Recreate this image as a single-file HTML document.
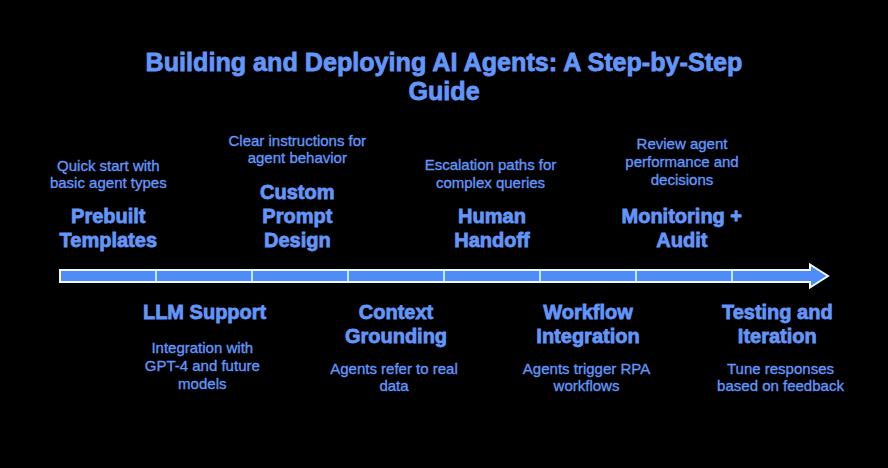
<!DOCTYPE html>
<html><head><meta charset="utf-8">
<style>
html,body{margin:0;padding:0;background:#000;}
body{width:888px;height:468px;position:relative;overflow:hidden;font-family:"Liberation Sans",sans-serif;color:#6396f8;}
.t{position:absolute;width:240px;text-align:center;white-space:nowrap;}
.title{left:0;width:888px;top:47.6px;font-weight:bold;font-size:25.15px;line-height:29.2px;-webkit-text-stroke:0.8px #6396f8;}
.h{font-weight:bold;font-size:20px;line-height:24px;-webkit-text-stroke:0.8px #6396f8;}
.d{font-size:15px;line-height:17.7px;-webkit-text-stroke:0.35px #6396f8;}
svg{position:absolute;left:0;top:0;}
</style></head><body>
<div class="t title">Building and Deploying AI Agents: A Step-by-Step<br>Guide</div>
<svg width="888" height="468" viewBox="0 0 888 468">
<polygon points="60,270 810,270 810,264.5 828,276 810,287.5 810,282 60,282" fill="#4e8cf8" stroke="#eef7ff" stroke-width="2" stroke-linejoin="miter"/>
<g stroke="#c4e6ff" stroke-width="2">
<line x1="156" y1="271" x2="156" y2="281"/><line x1="252" y1="271" x2="252" y2="281"/><line x1="348" y1="271" x2="348" y2="281"/><line x1="444" y1="271" x2="444" y2="281"/><line x1="540" y1="271" x2="540" y2="281"/><line x1="636" y1="271" x2="636" y2="281"/><line x1="732" y1="271" x2="732" y2="281"/>
</g>
</svg>
<!-- col1 -->
<div class="t d" style="left:-11.7px;top:156.6px">Quick start with<br>basic agent types</div>
<div class="t h" style="left:-11.7px;top:203.6px">Prebuilt<br>Templates</div>
<!-- col2 -->
<div class="t h" style="left:84.6px;top:300.1px">LLM Support</div>
<div class="t d" style="left:82.3px;top:339.3px">Integration with<br>GPT-4 and future<br>models</div>
<!-- col3 -->
<div class="t d" style="left:177.3px;top:131.7px">Clear instructions for<br>agent behavior</div>
<div class="t h" style="left:177.3px;top:179.8px">Custom<br>Prompt<br>Design</div>
<!-- col4 -->
<div class="t h" style="left:276px;top:299.9px">Context<br>Grounding</div>
<div class="t d" style="left:274px;top:359.5px">Agents refer to real<br>data</div>
<!-- col5 -->
<div class="t d" style="left:370.5px;top:156.3px">Escalation paths for<br>complex queries</div>
<div class="t h" style="left:372px;top:203.7px">Human<br>Handoff</div>
<!-- col6 -->
<div class="t h" style="left:468px;top:300px">Workflow<br>Integration</div>
<div class="t d" style="left:466.5px;top:359.5px">Agents trigger RPA<br>workflows</div>
<!-- col7 -->
<div class="t d" style="left:562px;top:135.4px">Review agent<br>performance and<br>decisions</div>
<div class="t h" style="left:561.8px;top:203.6px">Monitoring +<br>Audit</div>
<!-- col8 -->
<div class="t h" style="left:657.3px;top:300px">Testing and<br>Iteration</div>
<div class="t d" style="left:660.5px;top:359.5px">Tune responses<br>based on feedback</div>
</body></html>
